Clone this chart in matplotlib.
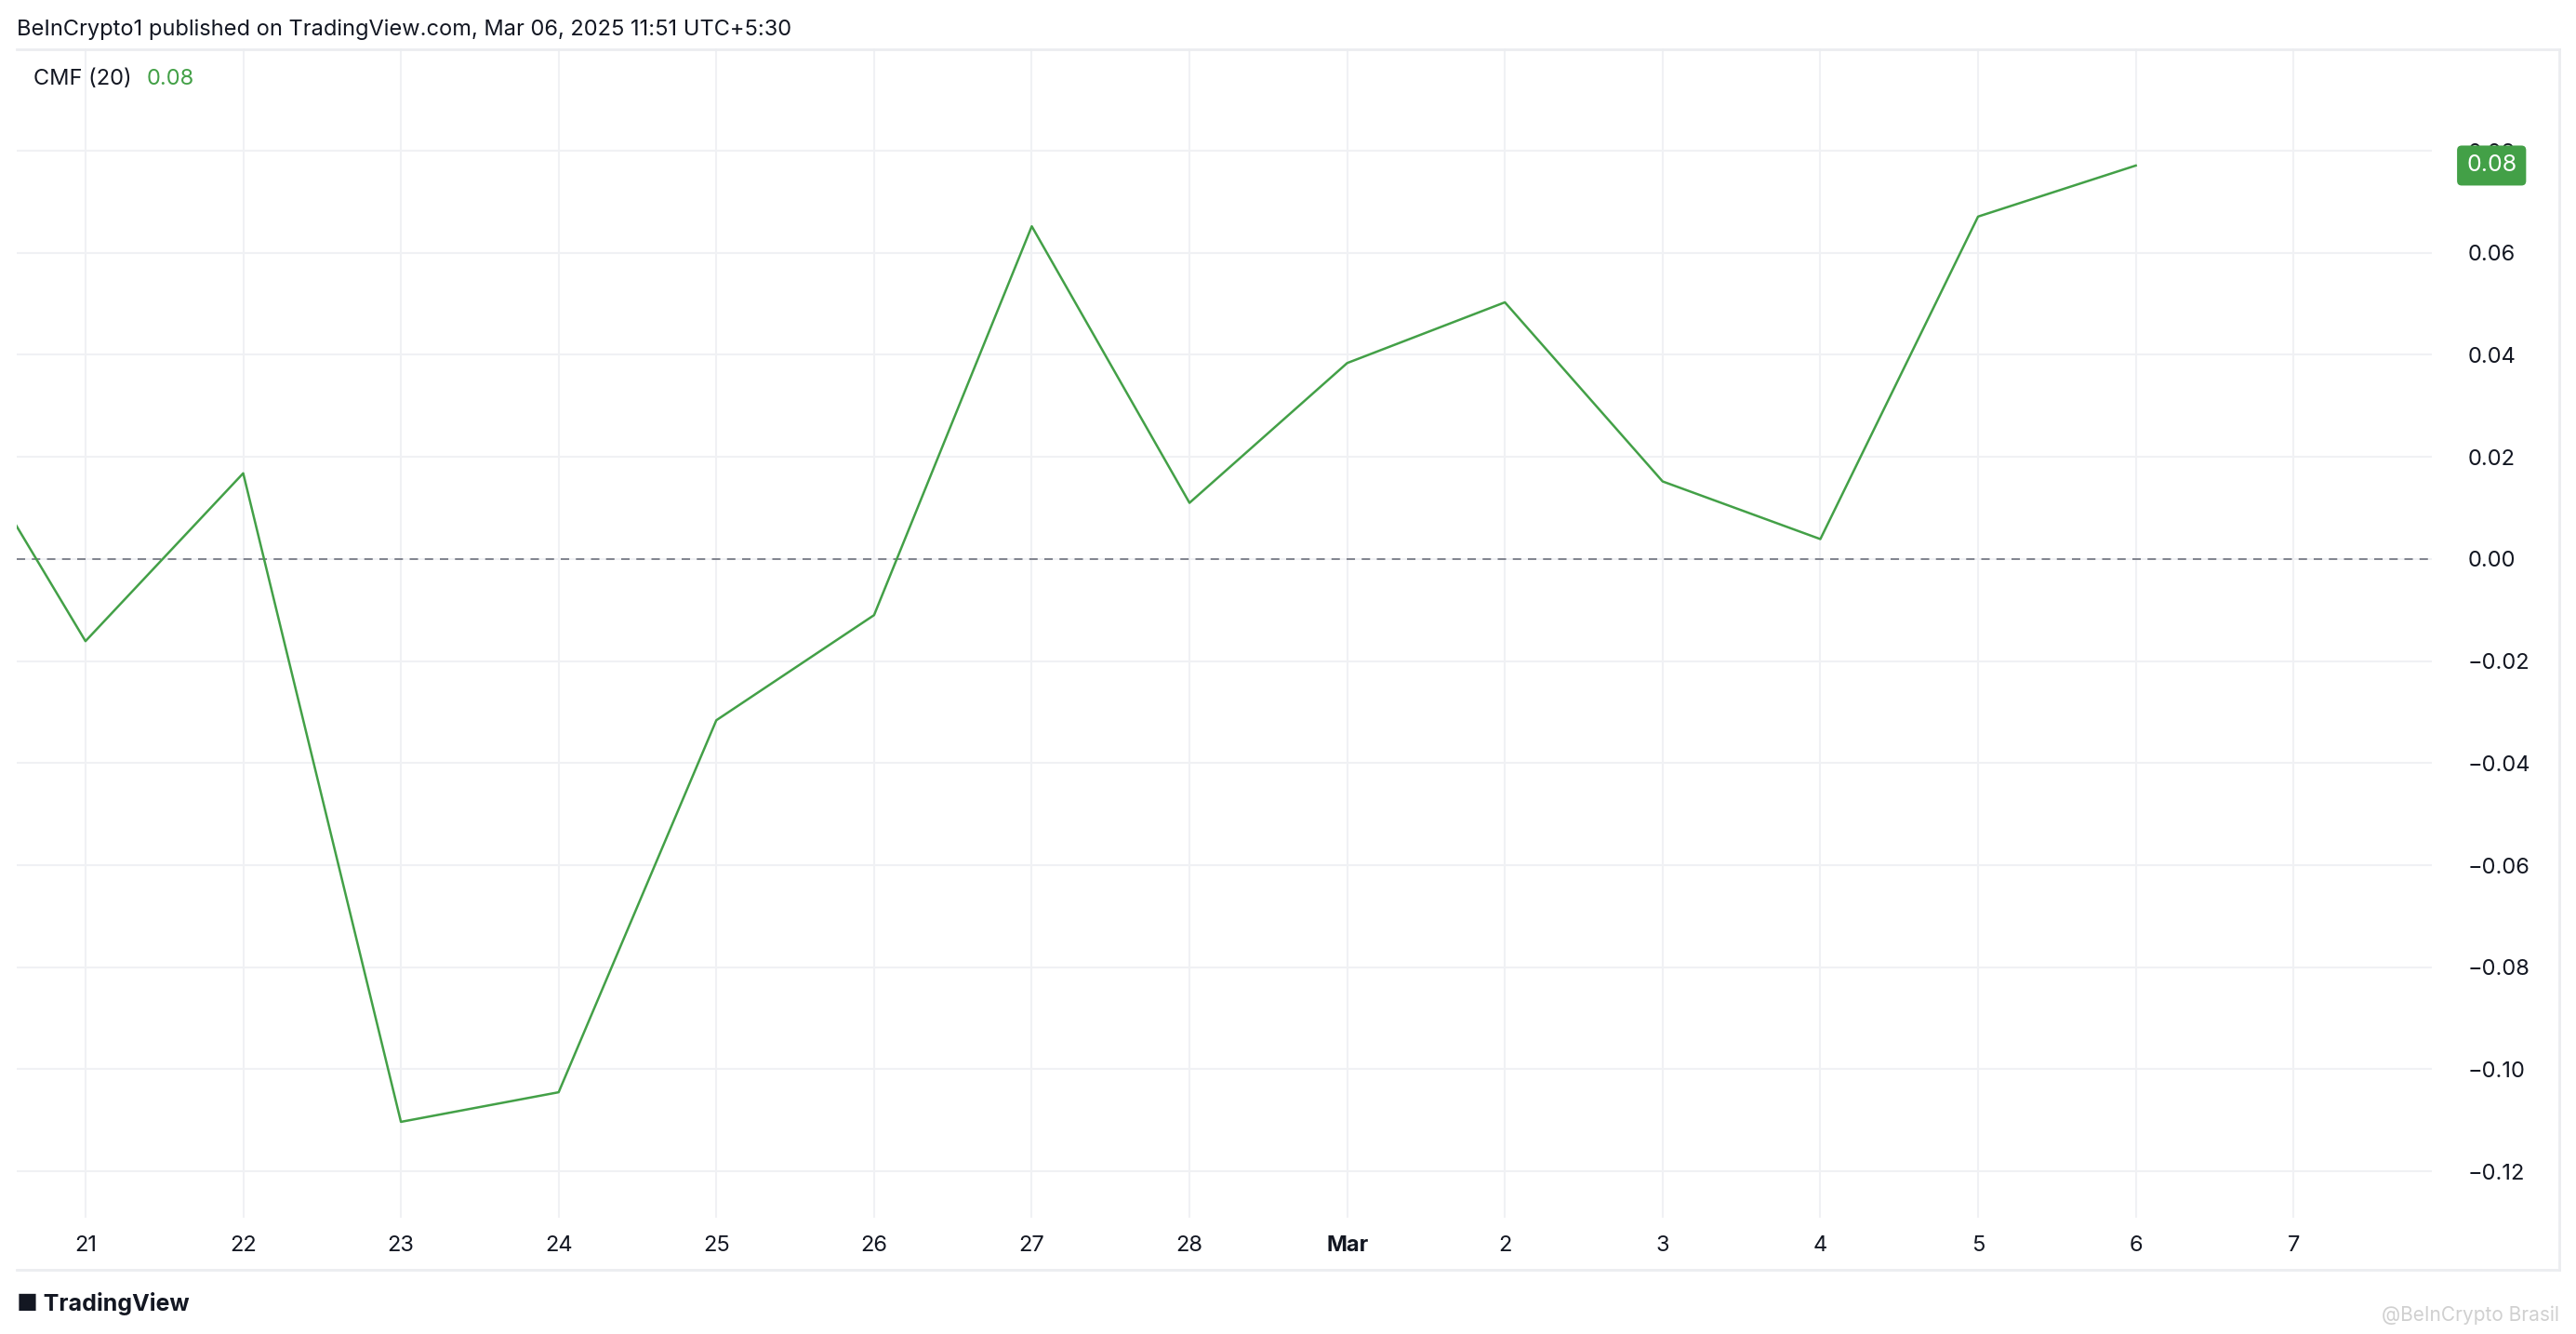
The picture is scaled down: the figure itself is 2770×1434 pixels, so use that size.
import matplotlib
matplotlib.use('Agg')
import matplotlib.pyplot as plt

plt.rcParams['font.family'] = ['Inter', 'DejaVu Sans']

# %% Data: CMF(20), daily, Feb 20 .. Mar 6 2025
day_labels = ['21', '22', '23', '24', '25', '26', '27', '28', 'Mar', '2', '3', '4', '5', '6', '7']
cmf_days = [-1, 0, 1, 2, 3, 4, 5, 6, 7, 8, 9, 10, 11, 12, 13]
cmf_values = [0.0355, -0.0161, 0.0168, -0.1103, -0.1045, -0.0316, -0.0110, 0.0652,
              0.0110, 0.0384, 0.0503, 0.0152, 0.0039, 0.0671, 0.0771]
y_ticks = [-0.12, -0.10, -0.08, -0.06, -0.04, -0.02, 0.00, 0.02, 0.04, 0.06, 0.08]

green = '#43a047'
grid_c = '#f0f1f4'

fig = plt.figure(figsize=(27.7, 14.34), dpi=100)
ax = fig.add_axes([0.0064, 0.0875, 0.9375, 0.876])
ax.set_xlim(-0.4375, 14.875)
ax.set_ylim(-0.129, 0.10)

for x in range(len(day_labels)):
    ax.axvline(x, color=grid_c, lw=1.5, zorder=0)
for y in y_ticks:
    ax.axhline(y, color=grid_c, lw=1.5, zorder=0)
ax.axhline(0, color='#787b86', lw=1.3, ls=(0, (5, 4)), zorder=1)

ax.plot(cmf_days, cmf_values, color=green, lw=1.8, zorder=2)

ax.set_xticks(range(len(day_labels)))
ax.set_xticklabels(day_labels, fontsize=17, color='#131722')
ax.get_xticklabels()[8].set_fontweight('bold')
ax.yaxis.tick_right()
ax.set_yticks(y_ticks)
ax.set_yticklabels(['\u2212%.2f' % -v if v < 0 else '%.2f' % v for v in y_ticks],
                   fontsize=17, color='#131722')
ax.tick_params(length=0, pad=14)
ax.tick_params(axis='y', pad=28)
for s in ax.spines.values():
    s.set_visible(False)

# last value label
last = cmf_values[-1]
ax.annotate('%.2f' % last, xy=(1.0, last), xycoords=('axes fraction', 'data'),
            xytext=(27, 0), textcoords='offset points', ha='left', va='center',
            fontsize=18, color='white',
            bbox=dict(boxstyle='round,pad=0.4,rounding_size=0.2', fc=green, ec='none'))

# frame lines
fig.add_artist(plt.Line2D([0.0064, 0.9936], [0.963, 0.963], color='#ebedf0', lw=2))
fig.add_artist(plt.Line2D([0.0064, 0.9936], [0.048, 0.048], color='#ebedf0', lw=2))
fig.add_artist(plt.Line2D([0.9936, 0.9936], [0.048, 0.963], color='#ebedf0', lw=2))

fig.text(0.0064, 0.978, 'BeInCrypto1 published on TradingView.com, Mar 06, 2025 11:51 UTC+5:30',
         fontsize=17, color='#131722', va='center')
fig.text(0.013, 0.941, 'CMF (20)', fontsize=17, color='#131722', va='center')
fig.text(0.057, 0.941, '0.08', fontsize=17, color=green, va='center')
fig.text(0.0064, 0.023, '\u25a0 TradingView', fontsize=18, color='#131722', va='center',
         fontweight='bold')
fig.text(0.9936, 0.014, '@BeInCrypto Brasil', fontsize=15, color='#d0d0d0', va='center',
         ha='right')

fig.savefig('out.png', dpi=100, facecolor='white')
